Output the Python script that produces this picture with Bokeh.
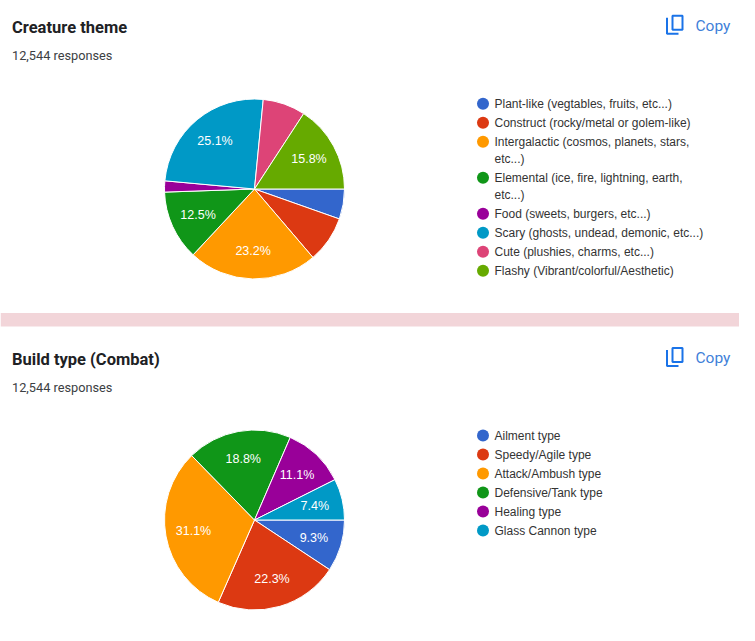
import math
from bokeh.core.properties import value
from bokeh.plotting import figure
from bokeh.models import Range1d
from bokeh.embed import file_html
from bokeh.resources import INLINE

colors = ["#3366cc", "#dc3912", "#ff9900", "#109618", "#990099", "#0099c6", "#dd4477", "#66aa00"]

title_a = "Creature theme"
title_b = "Build type (Combat)"
responses = "12,544 responses"

values_a = [5.4, 8.35, 23.2, 12.5, 2.0, 25.1, 7.65, 15.8]
shown_a = [None, None, "23.2%", "12.5%", None, "25.1%", None, "15.8%"]
legend_a = [
    ["Plant-like (vegtables, fruits, etc...)"],
    ["Construct (rocky/metal or golem-like)"],
    ["Intergalactic (cosmos, planets, stars,", "etc...)"],
    ["Elemental (ice, fire, lightning, earth,", "etc...)"],
    ["Food (sweets, burgers, etc...)"],
    ["Scary (ghosts, undead, demonic, etc...)"],
    ["Cute (plushies, charms, etc...)"],
    ["Flashy (Vibrant/colorful/Aesthetic)"],
]

values_b = [9.3, 22.3, 31.1, 18.8, 11.1, 7.4]
shown_b = ["9.3%", "22.3%", "31.1%", "18.8%", "11.1%", "7.4%"]
legend_b = [
    ["Ailment type"],
    ["Speedy/Agile type"],
    ["Attack/Ambush type"],
    ["Defensive/Tank type"],
    ["Healing type"],
    ["Glass Cannon type"],
]

SANS = value("Liberation Sans")
ROBOTO = value("Roboto")

LEFT, TOP, W, H = 1, 1, 739, 625
p = figure(width=W, height=H, output_backend="svg", toolbar_location=None,
           x_range=Range1d(LEFT, LEFT + W), y_range=Range1d(-(TOP + H), -TOP),
           min_border=0, outline_line_color=None, background_fill_color="white",
           border_fill_color="white")
p.axis.visible = False
p.grid.visible = False

# separator band
p.quad(left=[LEFT], right=[LEFT + W], top=[-313.5], bottom=[-327], fill_color="#f2d5d9", line_color=None)


def pie(cx, cy, values, shown):
    total = sum(values)
    run = 0.0
    for v, c, s in zip(values, colors, shown):
        a0 = run / total * 2 * math.pi
        a1 = (run + v) / total * 2 * math.pi
        run += v
        p.wedge(x=[cx], y=[-cy], radius=90, radius_units="screen",
                start_angle=[-a0], end_angle=[-a1], direction="clock",
                fill_color=c, line_color="white", line_width=1)
        if s:
            m = (a0 + a1) / 2
            p.text(x=[cx + 62 * math.cos(m)], y=[-(cy + 62 * math.sin(m))], text=[s],
                   text_color="white", text_font=SANS, text_font_size="12.5px",
                   text_align="center", text_baseline="middle")


def legend(x, y, entries):
    for entry, c in zip(entries, colors):
        p.scatter(x=[x], y=[-y], size=12, marker="circle", fill_color=c, line_color=None)
        yy = y
        for i, line in enumerate(entry):
            p.text(x=[x + 11.5], y=[-yy], text=[line], text_color="#333333",
                   text_font=SANS, text_font_size="12px",
                   text_align="left", text_baseline="middle")
            if i < len(entry) - 1:
                yy += 17
        y = yy + 19


def header(y, copy_y, title):
    p.text(x=[12.5], y=[-(y + 0.7)], text=[title], text_color="#202124", text_font=ROBOTO,
           text_font_size="16.5px", text_font_style="bold", text_align="left", text_baseline="middle")
    p.text(x=[12.5], y=[-(y + 28.5)], text=[responses], text_color="#3c4043", text_font=ROBOTO,
           text_font_size="12.75px", text_align="left", text_baseline="middle")
    p.text(x=[696], y=[-copy_y], text=["Copy"], text_color="#3f7fd9", text_font=ROBOTO,
           text_font_size="15.5px", text_align="left", text_baseline="middle")
    p.quad(left=[673], right=[683], top=[-(copy_y - 10)], bottom=[-(copy_y + 4)], fill_color=None,
           line_color="#1a73e8", line_width=2)
    p.line(x=[667.5, 667.5, 679], y=[-(copy_y - 8), -(copy_y + 8), -(copy_y + 8)], line_color="#1a73e8", line_width=2)


header(27, 26.3, title_a)
header(359, 358.5, title_b)
pie(255, 189.5, values_a, shown_a)
pie(255, 520.5, values_b, shown_b)
legend(483.5, 104.3, legend_a)
legend(483.5, 436, legend_b)

open("out.html", "w").write(file_html(p, INLINE))
